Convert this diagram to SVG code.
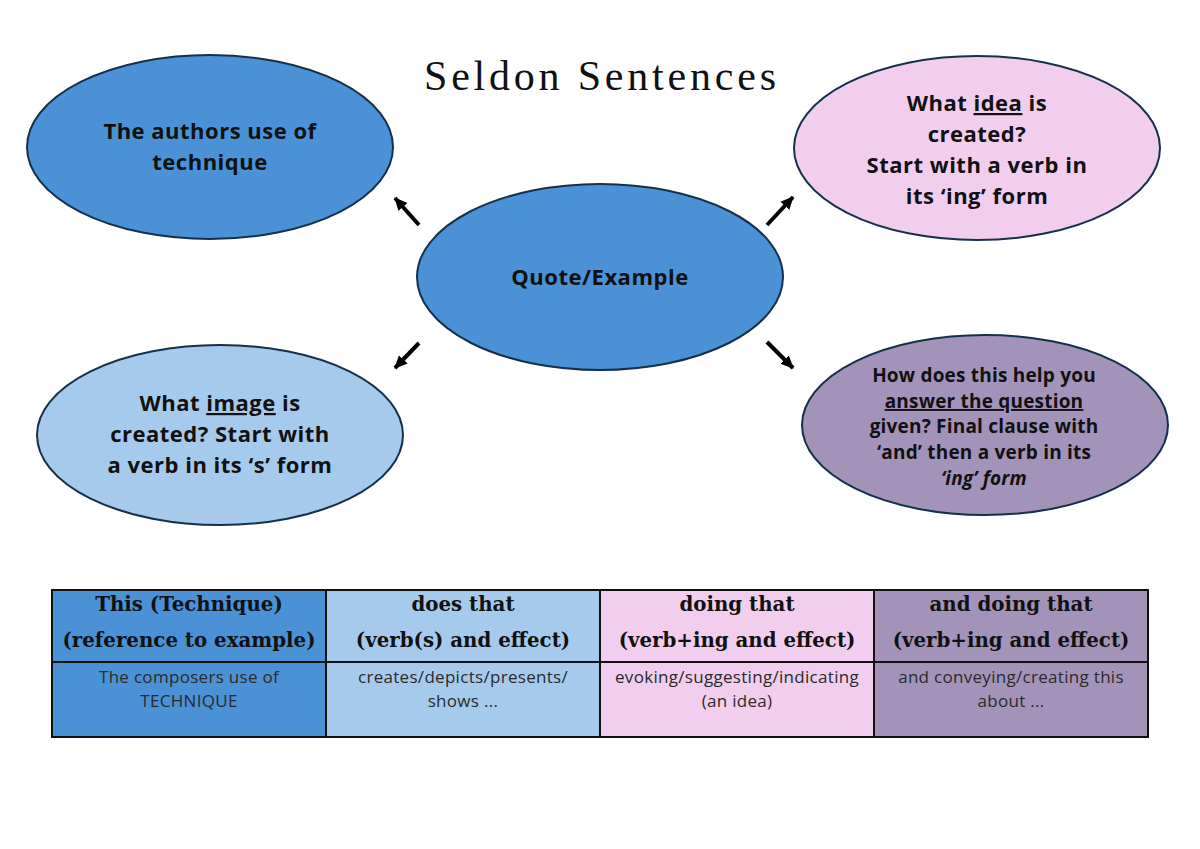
<svg xmlns="http://www.w3.org/2000/svg" width="1200" height="849" viewBox="0 0 1200 849">
<style>
.ell{stroke:#15304a;stroke-width:2}
.et{font-family:"Open Sans","Liberation Sans",sans-serif;font-weight:700;font-size:22px;letter-spacing:0.5px;fill:#111;text-anchor:middle}
.es{font-size:19px;letter-spacing:0.2px}
.u{text-decoration:underline}
.hd{font-family:"DejaVu Serif","Liberation Serif",serif;font-weight:700;font-size:19.8px;fill:#111;text-anchor:middle}
.bd{font-family:"Open Sans","Liberation Sans",sans-serif;font-size:17px;letter-spacing:0.3px;fill:#2a2a2a;text-anchor:middle}
.cn{stroke:#000;stroke-width:4;fill:none;marker-end:url(#ah)}
.cell{stroke:#111;stroke-width:2}
</style>
<defs>
<marker id="ah" markerUnits="userSpaceOnUse" markerWidth="14" markerHeight="14" refX="12" refY="7" orient="auto">
<path d="M0,1 L13,7 L0,13 Z" fill="#000"/>
</marker>
</defs>
<rect width="1200" height="849" fill="#fff"/>
<text x="600" y="90" font-family="Liberation Serif,serif" font-size="42" fill="#111" text-anchor="middle" textLength="352" lengthAdjust="spacing">Seldon Sentences</text>

<g id="connectors">
<line class="cn" x1="419" y1="225" x2="395" y2="198"/>
<line class="cn" x1="767" y1="225" x2="793" y2="197"/>
<line class="cn" x1="419" y1="343" x2="395" y2="368"/>
<line class="cn" x1="767" y1="342" x2="793" y2="368"/>
</g>

<g id="technique">
<ellipse class="ell" cx="210" cy="147" rx="183" ry="92" fill="#4a91d6"/>
<text class="et" x="210" y="139">The authors use of</text>
<text class="et" x="210" y="170">technique</text>
</g>

<g id="quote">
<ellipse class="ell" cx="600" cy="277" rx="183" ry="93" fill="#4a91d6"/>
<text class="et" x="600" y="285">Quote/Example</text>
</g>

<g id="idea">
<ellipse class="ell" cx="977" cy="148" rx="183" ry="92" fill="#f1cdee"/>
<text class="et" x="977" y="111">What <tspan class="u">idea</tspan> is</text>
<text class="et" x="977" y="142">created?</text>
<text class="et" x="977" y="173">Start with a verb in</text>
<text class="et" x="977" y="204">its ‘ing’ form</text>
</g>

<g id="image">
<ellipse class="ell" cx="220" cy="435" rx="183" ry="90" fill="#a6caeb"/>
<text class="et" x="220" y="411">What <tspan class="u">image</tspan> is</text>
<text class="et" x="220" y="442">created? Start with</text>
<text class="et" x="220" y="473">a verb in its ‘s’ form</text>
</g>

<g id="question">
<ellipse class="ell" cx="985" cy="425" rx="183" ry="90" fill="#a493b9"/>
<text class="et es" x="984" y="382">How does this help you</text>
<text class="et es" x="984" y="408"><tspan class="u">answer the question</tspan></text>
<text class="et es" x="984" y="433">given? Final clause with</text>
<text class="et es" x="984" y="459">‘and’ then a verb in its</text>
<text class="et es" x="984" y="485" font-style="italic">‘ing’ form</text>
</g>

<g id="table">
<rect class="cell" x="52" y="590" width="274" height="147" fill="#4a91d6"/>
<rect class="cell" x="326" y="590" width="274" height="147" fill="#a6caeb"/>
<rect class="cell" x="600" y="590" width="274" height="147" fill="#f1cdee"/>
<rect class="cell" x="874" y="590" width="274" height="147" fill="#a493b9"/>
<line x1="52" y1="662" x2="1148" y2="662" stroke="#111" stroke-width="2"/>
<text class="hd" x="189" y="611">This (Technique)</text>
<text class="hd" x="189" y="647">(reference to example)</text>
<text class="hd" x="463" y="611">does that</text>
<text class="hd" x="463" y="647">(verb(s) and effect)</text>
<text class="hd" x="737" y="611">doing that</text>
<text class="hd" x="737" y="647">(verb+ing and effect)</text>
<text class="hd" x="1011" y="611">and doing that</text>
<text class="hd" x="1011" y="647">(verb+ing and effect)</text>
<text class="bd" x="189" y="683">The composers use of</text>
<text class="bd" x="189" y="707">TECHNIQUE</text>
<text class="bd" x="463" y="683">creates/depicts/presents/</text>
<text class="bd" x="463" y="707">shows ...</text>
<text class="bd" x="737" y="683">evoking/suggesting/indicating</text>
<text class="bd" x="737" y="707">(an idea)</text>
<text class="bd" x="1011" y="683">and conveying/creating this</text>
<text class="bd" x="1011" y="707">about ...</text>
</g>
</svg>
